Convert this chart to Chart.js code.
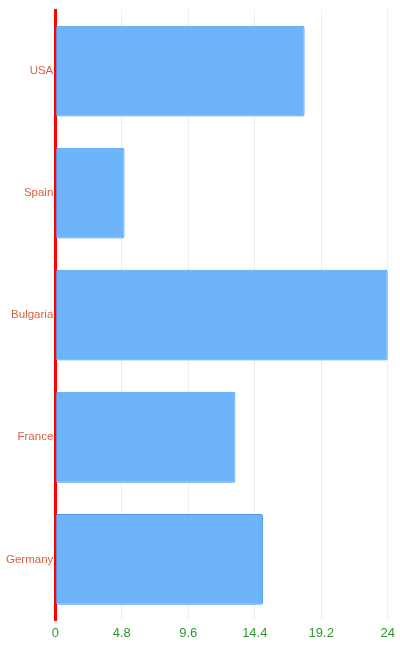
<!DOCTYPE html>
<html><head><meta charset="utf-8">
<script src="https://cdn.jsdelivr.net/npm/chart.js@4/dist/chart.umd.min.js"></script>
<style>html,body{margin:0;padding:0;background:#fff}#w{width:400px;height:647px}</style>
</head><body><div id="w"><canvas id="c"></canvas></div>
<script>
const categories = ["USA", "Spain", "Bulgaria", "France", "Germany"];
const values = [18, 5, 24, 13, 15];
const tickValues = [0, 4.8, 9.6, 14.4, 19.2, 24];

new Chart(document.getElementById('c'), {
  type: 'bar',
  data: {
    labels: categories,
    datasets: [{
      data: values,
      backgroundColor: '#6db4fa',
      borderColor: '#4799ee',
      borderWidth: 1,
      borderRadius: 2,
      borderSkipped: false,
      barPercentage: 0.93,
      categoryPercentage: 0.8
    }]
  },
  options: {
    indexAxis: 'y',
    responsive: true,
    maintainAspectRatio: false,
    animation: false,
    layout: { padding: { top: 10, right: -2, left: 4, bottom: 1 } },
    plugins: { legend: { display: false }, tooltip: { enabled: false } },
    scales: {
      x: {
        min: 0, max: 24,
        afterBuildTicks: (s) => { s.ticks = tickValues.map(v => ({ value: v })); },
        ticks: { color: '#2e9a2e', font: { family: 'Liberation Sans, Arial, sans-serif', size: 13 }, padding: 5, callback: (v) => String(v) },
        grid: { color: '#eeeeee', drawTicks: false },
        border: { display: false }
      },
      y: {
        z: 1,
        ticks: { color: '#d9603b', font: { family: 'Liberation Sans, Arial, sans-serif', size: 11.5 }, padding: 2 },
        grid: { display: true, drawOnChartArea: false, drawTicks: false, color: 'rgba(0,0,0,0)' },
        border: { display: true, color: '#ff0000', width: 3 }
      }
    }
  }
});
</script></body></html>
